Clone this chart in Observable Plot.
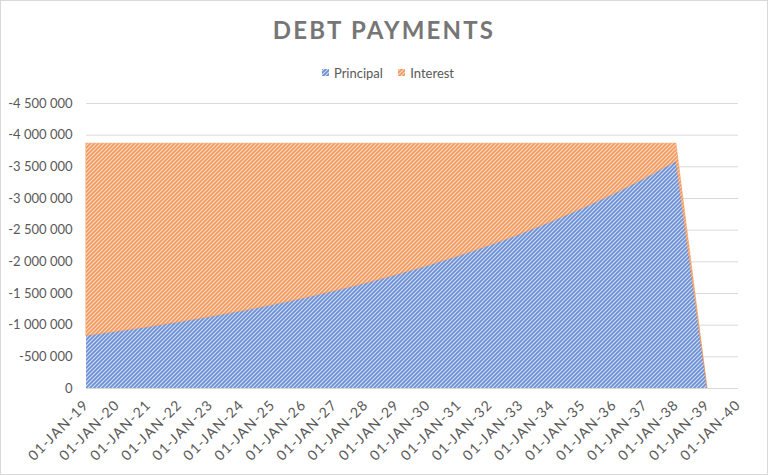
<!DOCTYPE html>
<html>
<head>
<meta charset="utf-8">
<script src="https://cdn.jsdelivr.net/npm/d3@7"></script>
<script src="https://cdn.jsdelivr.net/npm/@observablehq/plot@0.6"></script>
<style>
  html, body { margin: 0; padding: 0; background: #fff; }
  body { width: 768px; height: 475px; position: relative; overflow: hidden; font-family: Lato, "Open Sans", sans-serif; }
  body::after { content: ""; position: absolute; left: 0; top: 0; width: 766px; height: 473px; border: 1px solid #d9d9d9; pointer-events: none; }
  #head { position: relative; height: 90px; }
  #title { position: absolute; left: 0; width: 768px; top: 15px; text-align: center; font-size: 24px; font-weight: bold; letter-spacing: 2.2px; color: #767676; }
  #legend { position: absolute; left: 4px; width: 768px; top: 63px; text-align: center; font-size: 13px; color: #595959; }
  #legend span.item { display: inline-flex; align-items: center; margin: 0 6px; }
  #legend svg { margin-right: 5px; }
  #chart svg { display: block; }
  #chart g[aria-label="x-axis tick label"] text { letter-spacing: 1.2px; font-size: 14px; }
</style>
</head>
<body>
<svg width="0" height="0" style="position:absolute">
  <defs>
    <pattern id="pBlue" patternUnits="userSpaceOnUse" width="4" height="4">
      <rect width="4" height="4" fill="#cfdbf2"></rect>
      <path d="M-1,1 L1,-1 M0,4 L4,0 M3,5 L5,3" stroke="#6a8fd5" stroke-width="1.6"></path>
    </pattern>
    <pattern id="pOrange" patternUnits="userSpaceOnUse" width="4" height="4">
      <rect width="4" height="4" fill="#fbd8c0"></rect>
      <path d="M-1,1 L1,-1 M0,4 L4,0 M3,5 L5,3" stroke="#f29a5e" stroke-width="1.6"></path>
    </pattern>
  </defs>
</svg>
<div id="head">
  <div id="title">DEBT PAYMENTS</div>
  <div id="legend">
    <span class="item"><svg width="7" height="7"><rect width="7" height="7" fill="url(#pBlue)"></rect></svg>Principal</span>
    <span class="item"><svg width="7" height="7"><rect width="7" height="7" fill="url(#pOrange)"></rect></svg>Interest</span>
  </div>
</div>
<div id="chart"></div>
<script>
// Payment years (01-JAN of each year)
const years = [2019, 2020, 2021, 2022, 2023, 2024, 2025, 2026, 2027, 2028, 2029,
               2030, 2031, 2032, 2033, 2034, 2035, 2036, 2037, 2038, 2039];
// Principal portion of each payment (negative = outflow)
const principal = [-829400, -895800, -967460, -1044860, -1128450, -1218720, -1316220,
                   -1421520, -1535240, -1658060, -1790700, -1933960, -2088680, -2255770,
                   -2436230, -2631130, -2841630, -3068950, -3314470, -3579630, 0];
// Interest portion of each payment
const interest = [-3036600, -2970200, -2898540, -2821140, -2737550, -2647280, -2549780,
                  -2444480, -2330760, -2207940, -2075300, -1932040, -1777320, -1610230,
                  -1429770, -1234870, -1024370, -797050, -551530, -286370, 0];
// Axis tick values
const tickYears = [2019, 2020, 2021, 2022, 2023, 2024, 2025, 2026, 2027, 2028, 2029,
                   2030, 2031, 2032, 2033, 2034, 2035, 2036, 2037, 2038, 2039, 2040];
const yTicks = [0, -500000, -1000000, -1500000, -2000000, -2500000, -3000000, -3500000, -4000000, -4500000];

const months = ["JAN","FEB","MAR","APR","MAY","JUN","JUL","AUG","SEP","OCT","NOV","DEC"];
const toDate = y => new Date(Date.UTC(y, 0, 1));

const rows = years.map((y, i) => ({
  date: toDate(y),
  p0: 0,
  p1: principal[i],
  i1: principal[i] + interest[i]
}));

const fmtX = d => String(d.getUTCDate()).padStart(2, "0") + "-" + months[d.getUTCMonth()] + "-" + String(d.getUTCFullYear() % 100).padStart(2, "0");
const fmtY = n => n === 0 ? "0" : (n < 0 ? "-" : "") + d3.format(",")(Math.abs(n)).replace(/,/g, " ");

const chart = Plot.plot({
  width: 768,
  height: 385,
  marginLeft: 86,
  marginRight: 30,
  marginTop: 13,
  marginBottom: 87,
  style: { fontFamily: "Lato, 'Open Sans', sans-serif", fontSize: "13px", color: "#595959", background: "transparent", overflow: "visible" },
  x: {
    type: "utc",
    domain: [toDate(2019), toDate(2040)],
    ticks: tickYears.map(toDate),
    tickFormat: fmtX,
    tickRotate: -45,
    tickSize: 0,
    tickPadding: 14,
    label: null
  },
  y: {
    domain: [0, -4500000],
    ticks: yTicks,
    tickFormat: fmtY,
    tickSize: 0,
    tickPadding: 14,
    label: null
  },
  marks: [
    Plot.gridY(yTicks, { stroke: "#d9d9d9", strokeOpacity: 1, strokeWidth: 1 }),
    Plot.areaY(rows, { x: "date", y1: "p0", y2: "p1", fill: "url(#pBlue)", curve: "linear" }),
    Plot.areaY(rows, { x: "date", y1: "p1", y2: "i1", fill: "url(#pOrange)", stroke: "#ed7d31", strokeWidth: 0.4, curve: "linear" }),
    Plot.ruleY([0], { stroke: "#d9d9d9", strokeWidth: 1 })
  ]
});
document.getElementById("chart").appendChild(chart);
</script>
</body>
</html>
